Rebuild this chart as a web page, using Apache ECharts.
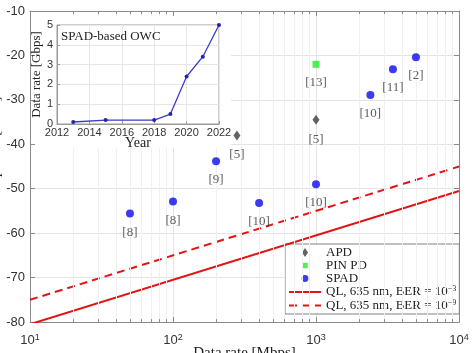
<!DOCTYPE html>
<html>
<head>
<meta charset="utf-8">
<script src="https://cdn.jsdelivr.net/npm/echarts@6/dist/echarts.min.js"></script>
<style>
  html, body { margin: 0; padding: 0; background: #fff; }
  #chart { width: 474px; height: 353px; }
</style>
</head>
<body>
<div id="chart"></div>
<script>
// main plot: data rate [Mbps] vs received power [dBm]
const apdRate = [280, 1000]
const apdPower = [-38, -34.5]
const apdRef = ['[5]', '[5]']

const pinRate = [1000]
const pinPower = [-22]
const pinRef = ['[13]']

const spadRate = [50, 100, 200, 400, 1000, 2400, 3450, 5000]
const spadPower = [-55.6, -52.9, -43.8, -53.2, -49, -28.9, -23.1, -20.4]
const spadRef = ['[8]', '[8]', '[9]', '[10]', '[10]', '[10]', '[11]', '[2]']

const qlRate = [10, 10000]
const qlBer3 = [-80.5, -50.5]
const qlBer9 = [-75, -45]

// inset: SPAD-based OWC data rate per year
const insetYears = [2013, 2015, 2018, 2019, 2020, 2021, 2022]
const insetGbps = [0.1, 0.2, 0.2, 0.5, 2.4, 3.4, 5.0]

const serif = '"Liberation Serif", "DejaVu Serif", serif'
const sans = '"Liberation Sans", Arial, sans-serif'

const zip = (xs, ys, refs) => xs.map((x, i) => refs ? [x, ys[i], refs[i]] : [x, ys[i]])

// minor log grid positions (2..9 in each decade)
const minorVals = []
for (let d = 10; d < 10000; d *= 10) {
  for (let k = 2; k <= 9; k++) minorVals.push(d * k)
}
const minorLines = minorVals.map(v => ({ xAxis: v }))
const minorTicks = []
minorVals.forEach(v => {
  minorTicks.push([{ coord: [v, -80] }, { coord: [v, -79.35] }])
  minorTicks.push([{ coord: [v, -10] }, { coord: [v, -10.65] }])
})

const pointLabel = {
  show: true,
  position: 'bottom',
  distance: 8,
  fontFamily: serif,
  fontSize: 13,
  color: '#333',
  formatter: p => p.data[2]
}

const supRich = {
  n: { fontFamily: serif, fontSize: 13, color: '#222', lineHeight: 14 },
  s: { fontFamily: serif, fontSize: 8, color: '#222', lineHeight: 8, verticalAlign: 'top' }
}

// legend icons: the leading moves pin the 32x10 box so the marker keeps its size
const box = 'path://M0,0M32,10'
const iconDiamond = box + 'M16,0.5L19,5L16,9.5L13,5Z'
const iconSquare = box + 'M13.3,2.3L18.7,2.3L18.7,7.7L13.3,7.7Z'
const iconCircle = box + 'M12.6,5A3.4,3.4,0,1,0,19.4,5A3.4,3.4,0,1,0,12.6,5Z'
const hideDot = { opacity: 0 }

const chart = echarts.init(document.getElementById('chart'))

chart.setOption({
  animation: false,
  backgroundColor: '#fff',
  grid: [
    { left: 30, right: 15, top: 11, bottom: 31, outerBoundsMode: 'none', containLabel: false },
    { left: 57, width: 162, top: 25, height: 99, outerBoundsMode: 'none', containLabel: false, show: true, backgroundColor: 'transparent', borderColor: '#9a9a9a', borderWidth: 1, z: 11 }
  ],
  graphic: [
    { type: 'rect', z: 10, shape: { x: 35, y: 16, width: 196, height: 132 }, style: { fill: '#fff' } },
    { type: 'text', z: 15, left: 61, top: 30, style: { text: 'SPAD-based OWC', font: '13px ' + serif, fill: '#222' } }
  ],
  xAxis: [
    {
      type: 'log', gridIndex: 0, min: 10, max: 10000, logBase: 10,
      name: 'Data rate [Mbps]', nameLocation: 'middle', nameGap: 24, nameMoveOverlap: false,
      nameTextStyle: { fontFamily: serif, fontSize: 15, color: '#222' },
      axisLine: { lineStyle: { color: '#8a8a8a' } },
      axisTick: { inside: true, length: 5, lineStyle: { color: '#8a8a8a' } },
      axisLabel: {
        margin: 11,
        formatter: v => '{b|10}{s|' + Math.round(Math.log10(v)) + '}',
        rich: {
          b: { fontFamily: sans, fontSize: 13, color: '#333', lineHeight: 15 },
          s: { fontFamily: sans, fontSize: 9, color: '#333', lineHeight: 9, verticalAlign: 'top' }
        }
      },
      splitLine: { show: true, lineStyle: { color: '#e4e4e4' } }
    },
    {
      type: 'log', gridIndex: 0, min: 10, max: 10000, position: 'top',
      axisLine: { lineStyle: { color: '#8a8a8a' } },
      axisTick: { inside: true, length: 5, lineStyle: { color: '#8a8a8a' } },
      axisLabel: { show: false }, splitLine: { show: false }
    },
    {
      type: 'value', gridIndex: 1, min: 2012, max: 2022, interval: 2, z: 12,
      name: 'Year', nameLocation: 'middle', nameGap: 12, nameMoveOverlap: false,
      nameTextStyle: { fontFamily: serif, fontSize: 14, color: '#222' },
      axisLine: { lineStyle: { color: '#9a9a9a' } },
      axisTick: { inside: true, length: 3, lineStyle: { color: '#9a9a9a' } },
      axisLabel: { fontFamily: sans, fontSize: 11, color: '#333', margin: 3, formatter: v => String(v) },
      splitLine: { show: true, lineStyle: { color: '#e6e6e6' } }
    }
  ],
  yAxis: [
    {
      type: 'value', gridIndex: 0, min: -80, max: -10, interval: 10,
      name: 'Received power [dBm]', nameLocation: 'middle', nameGap: 27, nameMoveOverlap: false,
      nameTextStyle: { fontFamily: serif, fontSize: 15, color: '#222' },
      axisLine: { lineStyle: { color: '#8a8a8a' } },
      axisTick: { inside: true, length: 5, lineStyle: { color: '#8a8a8a' } },
      axisLabel: { fontFamily: sans, fontSize: 13, color: '#333', margin: 5 },
      splitLine: { show: true, lineStyle: { color: '#e4e4e4' } }
    },
    {
      type: 'value', gridIndex: 0, min: -80, max: -10, interval: 10, position: 'right',
      axisLine: { lineStyle: { color: '#8a8a8a' } },
      axisTick: { inside: true, length: 5, lineStyle: { color: '#8a8a8a' } },
      axisLabel: { show: false }, splitLine: { show: false }
    },
    {
      type: 'value', gridIndex: 1, min: 0, max: 5, interval: 1, z: 12,
      name: 'Data rate [Gbps]', nameLocation: 'middle', nameGap: 14, nameMoveOverlap: false,
      nameTextStyle: { fontFamily: serif, fontSize: 13, color: '#222' },
      axisLine: { lineStyle: { color: '#9a9a9a' } },
      axisTick: { inside: true, length: 3, lineStyle: { color: '#9a9a9a' } },
      axisLabel: { fontFamily: sans, fontSize: 11, color: '#333', margin: 4 },
      splitLine: { show: true, lineStyle: { color: '#e6e6e6' } }
    }
  ],
  legend: {
    left: 285, top: 244,
    orient: 'vertical',
    backgroundColor: '#fff',
    borderColor: '#808080', borderWidth: 1, borderRadius: 0,
    padding: [2, 3, 2, 3],
    itemWidth: 32, itemHeight: 10, itemGap: 0,
    data: [
      { name: 'APD', icon: iconDiamond },
      { name: 'PIN PD', icon: iconSquare },
      { name: 'SPAD', icon: iconCircle },
      { name: 'QL, 635 nm, BER = 10^−3', itemStyle: hideDot },
      { name: 'QL, 635 nm, BER = 10^−9', itemStyle: hideDot }
    ],
    formatter: name => {
      const parts = name.split('^')
      return parts.length > 1 ? '{n|' + parts[0] + '}{s|' + parts[1] + '}' : '{n|' + name + '}'
    },
    textStyle: { fontFamily: serif, fontSize: 13, color: '#222', rich: supRich }
  },
  series: [
    {
      name: 'grid-minor', type: 'line', xAxisIndex: 0, yAxisIndex: 0, data: [], z: 1, silent: true,
      markLine: {
        silent: true, symbol: 'none', label: { show: false },
        lineStyle: { color: '#f0f0f0', width: 1, type: 'solid' },
        data: minorLines
      }
    },
    {
      name: 'tick-minor', type: 'line', xAxisIndex: 0, yAxisIndex: 0, data: [], z: 3, silent: true,
      markLine: {
        silent: true, symbol: 'none', label: { show: false },
        lineStyle: { color: '#8a8a8a', width: 1, type: 'solid' },
        data: minorTicks
      }
    },
    {
      name: 'QL, 635 nm, BER = 10^−3', type: 'line', xAxisIndex: 0, yAxisIndex: 0,
      data: zip(qlRate, qlBer3), symbol: 'none', z: 4,
      lineStyle: { color: '#e31414', width: 2 }, itemStyle: { color: '#e31414' }
    },
    {
      name: 'QL, 635 nm, BER = 10^−9', type: 'line', xAxisIndex: 0, yAxisIndex: 0,
      data: zip(qlRate, qlBer9), symbol: 'none', z: 4,
      lineStyle: { color: '#e31414', width: 2, type: [8, 5] }, itemStyle: { color: '#e31414' }
    },
    {
      name: 'APD', type: 'scatter', xAxisIndex: 0, yAxisIndex: 0,
      data: zip(apdRate, apdPower, apdRef), symbol: 'diamond', symbolSize: [7, 10], z: 5,
      itemStyle: { color: '#3c3c3c' }, label: pointLabel
    },
    {
      name: 'PIN PD', type: 'scatter', xAxisIndex: 0, yAxisIndex: 0,
      data: zip(pinRate, pinPower, pinRef), symbol: 'rect', symbolSize: 7, z: 5,
      itemStyle: { color: '#22ee22' }, label: pointLabel
    },
    {
      name: 'SPAD', type: 'scatter', xAxisIndex: 0, yAxisIndex: 0,
      data: zip(spadRate, spadPower, spadRef), symbol: 'circle', symbolSize: 8, z: 5,
      itemStyle: { color: '#0a0af0' }, label: pointLabel
    },
    {
      name: 'inset', type: 'line', xAxisIndex: 2, yAxisIndex: 2,
      data: zip(insetYears, insetGbps), symbol: 'circle', symbolSize: 4, z: 13,
      lineStyle: { color: '#3b3bcc', width: 1.3 }, itemStyle: { color: '#2222aa' }
    }
  ]
})
</script>
</body>
</html>
